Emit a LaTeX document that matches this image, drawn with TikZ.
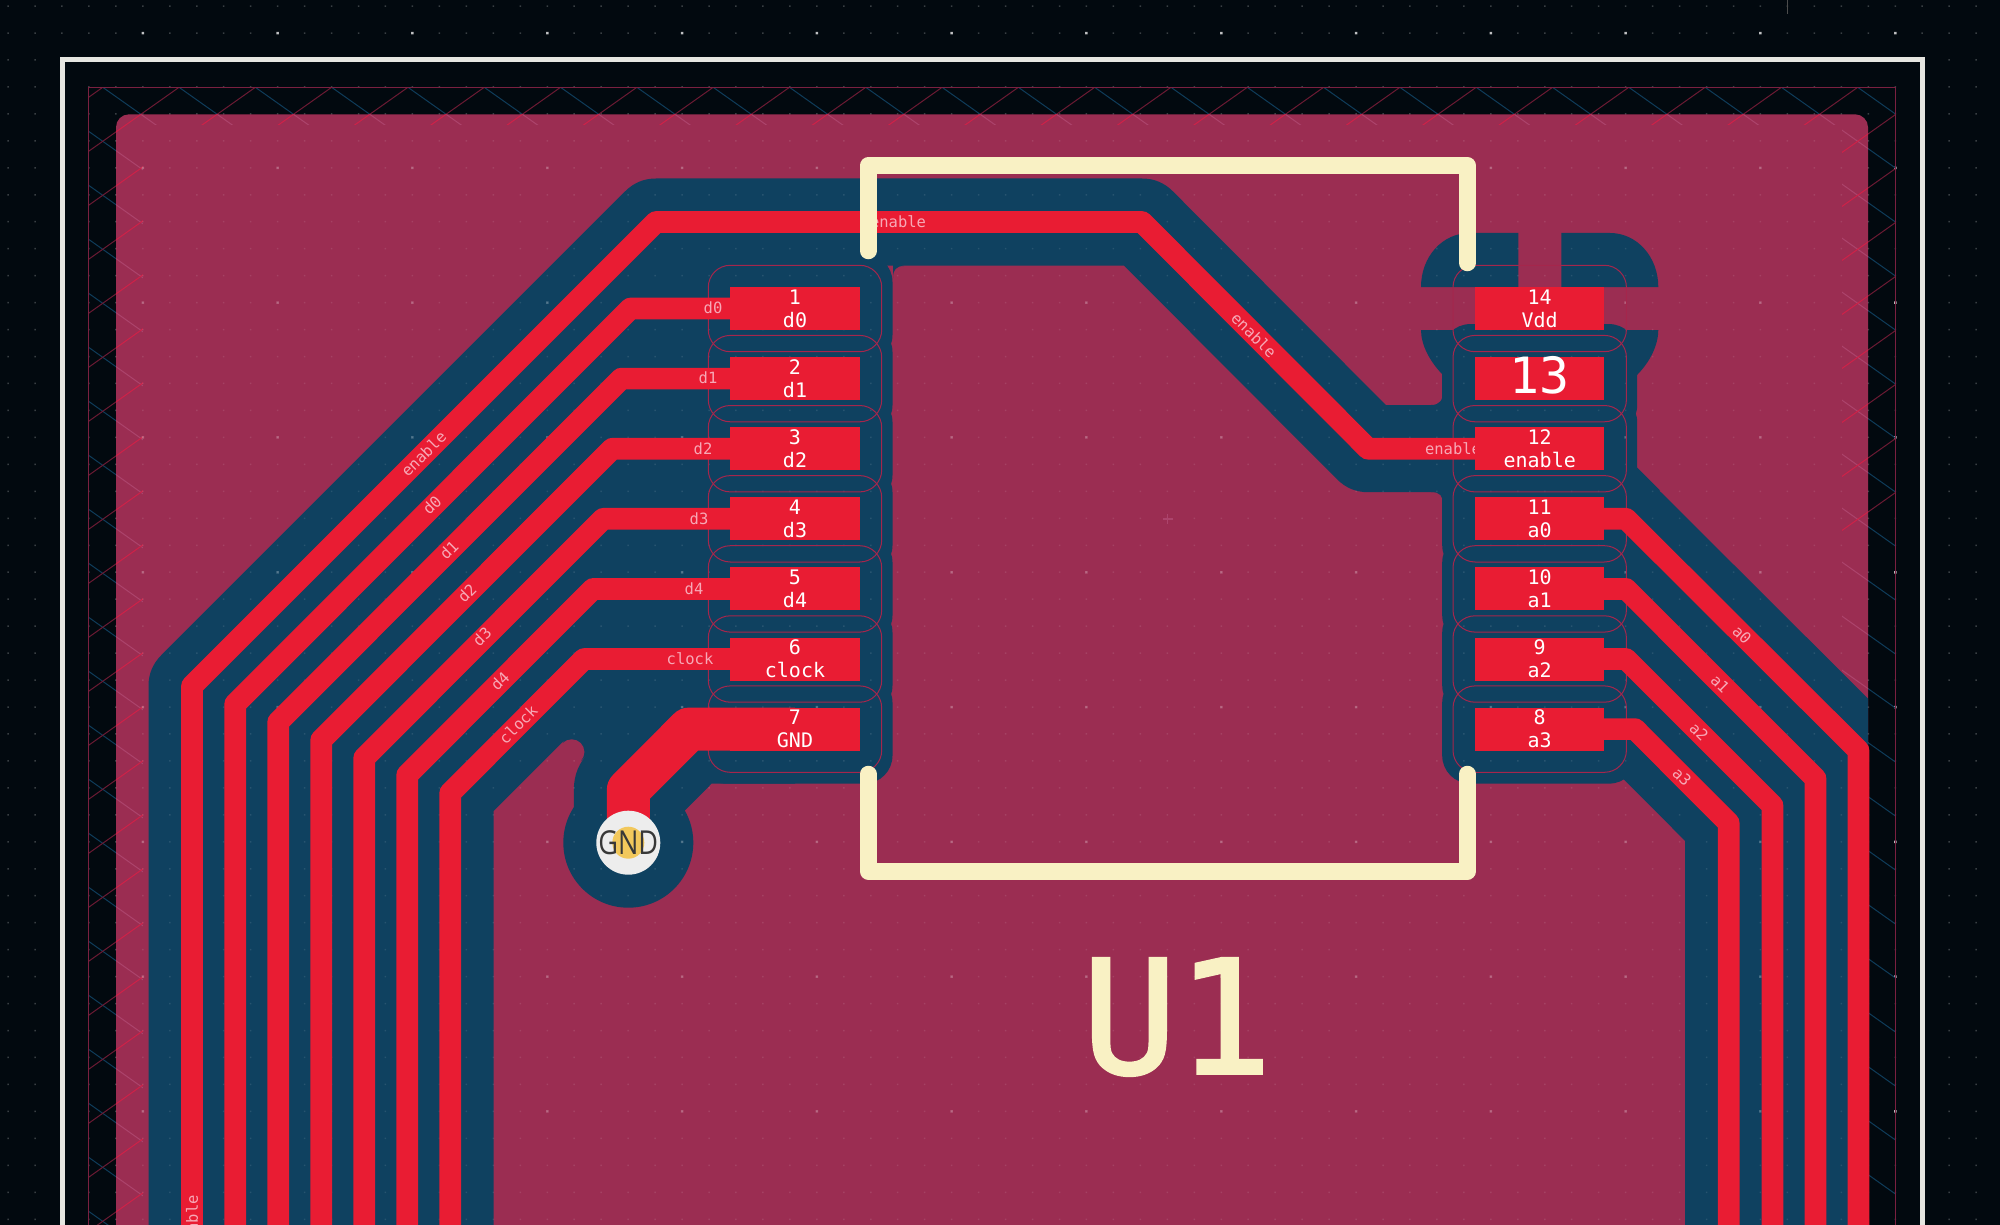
\documentclass[tikz,border=0pt]{standalone}
\usepackage{fontspec}
\setmonofont{DejaVu Sans Mono}
\setsansfont{Open Sans}
\newfontfamily\silkfont[FakeBold=1.8]{DejaVu Sans Mono}
\definecolor{boardblack}{RGB}{2, 9, 15}
\definecolor{edgewhite}{RGB}{230, 230, 225}
\definecolor{keepred}{RGB}{122, 32, 64}
\definecolor{copperfill}{RGB}{155, 45, 82}
\definecolor{clearblue}{RGB}{15, 65, 96}
\definecolor{trackred}{RGB}{233, 28, 51}
\definecolor{silkcream}{RGB}{249, 241, 196}
\definecolor{netpink}{RGB}{247, 168, 182}
\definecolor{hatchblue}{RGB}{15, 60, 90}
\definecolor{hatchdark}{RGB}{107, 26, 51}
\definecolor{hatchpink}{RGB}{172, 68, 108}
\definecolor{hatchbright}{RGB}{207, 33, 72}
\definecolor{viayellow}{RGB}{242, 200, 92}
\definecolor{outlinered}{RGB}{165, 38, 76}
\usetikzlibrary{positioning, calc}

\tikzset{
  clearstroke/.style={draw=clearblue, line width=87pt, line join=round},
  trackstroke/.style={draw=trackred, line width=21.7pt, line join=round},
  padbox/.style={fill=trackred, minimum width=129.3pt, minimum height=43pt, inner sep=0pt, align=center, text=white, font=\ttfamily\fontsize{20}{23}\selectfont},
  netlabel/.style={inner sep=0pt, text=netpink, font=\ttfamily\fontsize{15.5}{18}\selectfont},
  silkline/.style={draw=silkcream, line width=16.5pt, line cap=round, line join=round}
}

% every signal track, left side first
\newcommand{\drawtracks}[1]{
  \draw[#1] (192,1300) -- (192,686) -- (656,222) -- (1142,222) -- (1368,448.7) -- (pin12);
  \draw[#1] (235.2,1300) -- (235.2,704) -- (630.5,308.5) -- (pin1);
  \draw[#1] (278.2,1300) -- (278.2,722) -- (621.4,378.6) -- (pin2);
  \draw[#1] (321.2,1300) -- (321.2,740) -- (612.3,448.7) -- (pin3);
  \draw[#1] (364.2,1300) -- (364.2,758) -- (603.2,518.8) -- (pin4);
  \draw[#1] (407.2,1300) -- (407.2,775) -- (593.1,588.9) -- (pin5);
  \draw[#1] (450.2,1300) -- (450.2,793) -- (584,659) -- (pin6);
  \draw[#1] (pin11) -- (1626,518.8) -- (1858.5,750.5) -- (1858.5,1300);
  \draw[#1] (pin10) -- (1626,588.9) -- (1815.5,778.5) -- (1815.5,1300);
  \draw[#1] (pin9) -- (1626,659) -- (1772.5,805.5) -- (1772.5,1300);
  \draw[#1] (pin8) -- (1635,729.1) -- (1728.7,823) -- (1728.7,1300);
}
% zone hatching, one colour per direction
\newcommand{\drawhatch}[2]{
  \foreach \k in {-30,...,30}
    \draw[#1, line width=1pt] (85,{14.6+54*\k+0.7077*85}) -- (1900,{14.6+54*\k+0.7077*1900});
  \foreach \k in {-5,...,30}
    \draw[#2, line width=1pt] (85,{214+54*\k-0.7077*85}) -- (1900,{214+54*\k-0.7077*1900});
}
% grid of dots, minor and major
\newcommand{\drawdots}[2]{
  \fill[white, opacity=#1] \foreach \i in {0,...,73} { \foreach \j in {0,...,45} { ({8+26.96*\i-0.7},{6+26.96*\j-0.7}) rectangle ++(1.5,1.5) } };
  \fill[white, opacity=#2] \foreach \i in {0,...,14} { \foreach \j in {0,...,8} { ({142.8+134.8*\i-1.2},{33+134.8*\j-1.2}) rectangle ++(2.5,2.5) } };
}

\begin{document}
\begin{tikzpicture}[x=1pt, y=-1pt]
  \useasboundingbox (0,0) rectangle (2000,1225);
  \clip (0,0) rectangle (2000,1225);
  \fill[boardblack] (0,0) rectangle (2000,1225);
  \drawdots{0.22}{0.7}

  % Pad positions
  \foreach \num/\row in {1/0, 2/1, 3/2, 4/3, 5/4, 6/5, 7/6}
    \coordinate (pin\num) at (795, {308.5+70.1*\row});
  \foreach \num/\row in {14/0, 13/1, 12/2, 11/3, 10/4, 9/5, 8/6}
    \coordinate (pin\num) at (1539.7, {308.5+70.1*\row});

  % Board edge
  \draw[draw=edgewhite, line width=5pt] (62,60) rectangle (1922.5,1300);
  \draw[draw=black!70!white, line width=1.2pt] (1787.7,0) -- (1787.7,14);

  % Keepout hatching
  \begin{scope}
    \clip (88.7,87.3) rectangle (1895.3,1300);
    \drawhatch{hatchblue}{hatchdark}
  \end{scope}
  \draw[draw=keepred, line width=1pt] (88.7,87.3) rectangle (1895.3,1300);

  % Copper zone
  \fill[copperfill, rounded corners=13pt] (116,114.3) rectangle (1868,1340);
  \begin{scope}
    \clip[rounded corners=13pt] (116,114.3) rectangle (1868,1340);
    \drawhatch{hatchpink}{hatchbright}
    \fill[copperfill] (143,125) rectangle (1842,1340);

    % Clearance round tracks and pads
    \drawtracks{clearstroke}
    \foreach \num in {1,2,3,4,5,6,7,8,9,10,11,12,13}
      \fill[clearblue, rounded corners=28pt] ($(pin\num)+(-97.5,-54.5)$) rectangle ($(pin\num)+(97.5,54.5)$);
    \draw[draw=clearblue, line width=109pt, line join=round] (pin7) -- (689,729.1) -- (628.3,790) -- (628.3,842.7);
    \fill[clearblue] (562.7,743) -- (580.7,761) -- (660,690) -- (600,670) -- cycle;
    \fill[copperfill] (571.7,752) circle [radius=12.7];
    \fill[clearblue] (628.3,842.7) circle [radius=65];

    % Small fillets
    \fill[clearblue] (1637,467.5) -- (1660,490.5) -- (1630,500) -- cycle;
    \fill[clearblue] (893,278) .. controls (893,270) and (896,266) .. (904,266) -- (893,262) -- cycle;
    \fill[clearblue] (1443,391) .. controls (1443,400) and (1440,405) .. (1431,405) -- (1446,408) -- cycle;
    \fill[clearblue] (1443,504) .. controls (1443,496) and (1440,492) .. (1431,492) -- (1446,488) -- cycle;

    % Thermal relief of pad 14
    \fill[clearblue] (1421,287) .. controls (1421,257) and (1442,233) .. (1470,233) -- (1518.3,233) -- (1518.3,287) -- cycle;
    \fill[clearblue] (1561.3,287) -- (1561.3,233) -- (1610,233) .. controls (1637,233) and (1658.3,257) .. (1658.3,287) -- cycle;
    \fill[clearblue] (1421,330) .. controls (1421,345) and (1430,362) .. (1443,375) -- (1637,375) .. controls (1650,362) and (1658.3,345) .. (1658.3,330) -- cycle;
  \end{scope}

  % Grid dots over the copper
  \begin{scope}
    \clip[rounded corners=13pt] (116,114.3) rectangle (1868,1340);
    \drawdots{0.1}{0.22}
  \end{scope}
  \draw[draw=hatchpink, line width=1.5pt] (1162.7,519) -- (1172.7,519) (1167.7,514) -- (1167.7,524);

  % Pad outlines
  \foreach \num in {1,2,3,4,5,6,7,8,9,10,11,12,13,14}
    \draw[draw=outlinered, line width=1pt, rounded corners=22pt] ($(pin\num)+(-86.7,-43.2)$) rectangle ($(pin\num)+(86.7,43.2)$);

  % Tracks
  \drawtracks{trackstroke}
  \draw[draw=trackred, line width=43pt, line join=round] (pin7) -- (689,729.1) -- (628.3,790) -- (628.3,842.7);

  % Net names on tracks
  \node[netlabel] (lblena) at (898,222) {enable};
  \node[netlabel, rotate=-45] (lblenb) at (1254,335) {enable};
  \node[netlabel] (lblenc) at (1453,448.5) {enable};
  \node[netlabel, rotate=45] (lblend) at (423.5,454) {enable};
  \node[netlabel, rotate=90] (lblene) at (192,1223) {enable};
  \node[netlabel] (lbldzero) at (713,308) {d0};
  \node[netlabel] (lbldone) at (708,378) {d1};
  \node[netlabel] (lbldtwo) at (703,448.5) {d2};
  \node[netlabel] (lbldthree) at (699,518.5) {d3};
  \node[netlabel] (lbldfour) at (694,588.5) {d4};
  \node[netlabel] (lblclock) at (690,658.5) {clock};
  \node[netlabel, rotate=45] (lbldiaa) at (432,505) {d0};
  \node[netlabel, rotate=45] (lbldiab) at (449,550) {d1};
  \node[netlabel, rotate=45] (lbldiac) at (467,593) {d2};
  \node[netlabel, rotate=45] (lbldiad) at (482,636.5) {d3};
  \node[netlabel, rotate=45] (lbldiae) at (500,681) {d4};
  \node[netlabel, rotate=45] (lbldiaf) at (518,724.5) {clock};
  \node[netlabel, rotate=-45] (lblazero) at (1742,635) {a0};
  \node[netlabel, rotate=-45] (lblaone) at (1720,684) {a1};
  \node[netlabel, rotate=-45] (lblatwo) at (1699,732) {a2};
  \node[netlabel, rotate=-45] (lblathree) at (1682,777) {a3};

  % Pads
  \foreach \num/\name in {1/d0, 2/d1, 3/d2, 4/d3, 5/d4, 6/clock, 7/GND, 14/Vdd, 12/enable, 11/a0, 10/a1, 9/a2, 8/a3}
    \node[padbox] (pad\num) at (pin\num) {\num\\\name};
  \node[fill=trackred, minimum width=129.3pt, minimum height=43pt, inner sep=0pt] (pad13) at (pin13) {};
  \node[inner sep=0pt, text=white, font=\ttfamily\fontsize{50}{52}\selectfont] (padname13) at (1539.7,375.5) {13};

  % Via
  \node[circle, fill=white!93!black, minimum size=64pt, inner sep=0pt] (via) at (628.3,842.7) {};
  \fill[viayellow] (via.center) circle [radius=16];
  \node[inner sep=0pt, text=black!78!white, font=\sffamily\fontsize{33}{33}\selectfont, xscale=0.82] (vianame) at (via.center) {GND};

  % Silkscreen
  \draw[silkline] (868.3,251) -- (868.3,165.3) -- (1467.3,165.3) -- (1467.3,263);
  \draw[silkline] (868.3,774) -- (868.3,871.5) -- (1467.3,871.5) -- (1467.3,774);
  \node[inner sep=0pt, text=silkcream, font=\silkfont\fontsize{158}{158}\selectfont] (refname) at (1177,1017) {U1};
\end{tikzpicture}
\end{document}
